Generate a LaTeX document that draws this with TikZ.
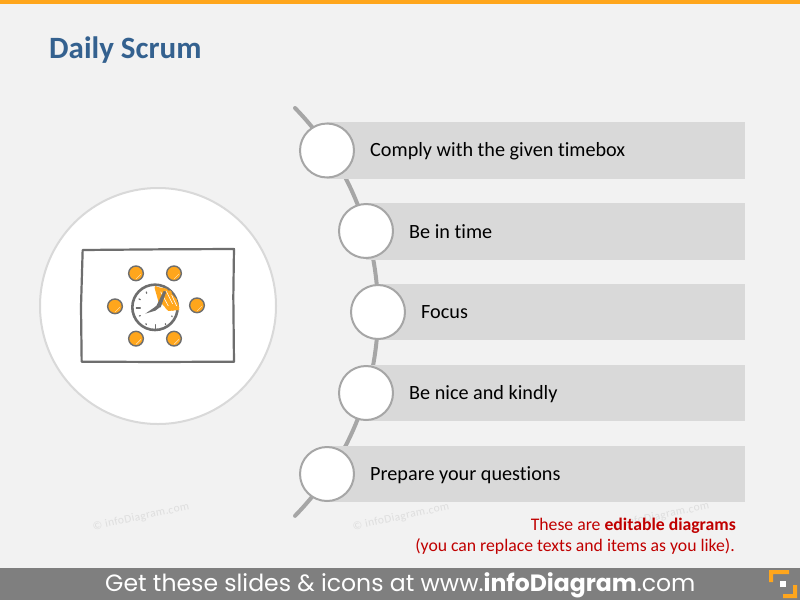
\documentclass[tikz,border=0pt]{standalone}
\usepackage{fontspec}
\setmainfont{Carlito}[Ligatures=NoCommon]
\newfontfamily\footfont{Poppins}
\newfontfamily\markfont[LetterSpace=3.5,Ligatures=NoCommon]{Carlito}
\definecolor{bg}{HTML}{F2F2F2}
\definecolor{barfill}{HTML}{D9D9D9}
\definecolor{ringc}{HTML}{A6A6A6}
\definecolor{topor}{HTML}{FFA61C}
\definecolor{foot}{HTML}{7F7F7F}
\definecolor{titlec}{HTML}{34618F}
\definecolor{redc}{HTML}{C00000}
\definecolor{markc}{HTML}{DEDEDE}
\definecolor{sketch}{HTML}{6E6E6E}
\tikzset{
 x=1pt,y=-1pt,
 barbox/.style={fill=barfill,draw=none,minimum height=56.5pt,anchor=west,inner sep=0pt},
 knob/.style={circle,fill=white,draw=ringc,line width=2pt,minimum size=54pt,inner sep=0pt},
 barlabel/.style={anchor=west,font=\fontsize{20.2}{24}\selectfont,text=black,inner sep=0pt},
 wmark/.style={font=\markfont\fontsize{11.5}{14}\selectfont,text=markc,rotate=12,inner sep=0pt},
 notetext/.style={anchor=east,inner sep=0pt,text=redc,font=\fontsize{17.7}{20}\selectfont},
 seatdot/.style={fill=topor,draw=sketch,line width=1.4pt},
 ticklet/.style={draw=sketch,line width=1.2pt,line cap=round},
}
\begin{document}
\begin{tikzpicture}
\useasboundingbox (0,0) rectangle (800,600);
\fill[bg] (0,0) rectangle (800,600);
\fill[topor] (0,0) rectangle (800,4);
\fill[foot] (0,568) rectangle (800,600);
\node[anchor=west,inner sep=0pt,font=\bfseries\fontsize{31}{36}\selectfont,text=titlec] (title) at (49,50) {Daily Scrum};
% watermarks
\node[wmark] (w1) at (141,517) {© infoDiagram.com};
\node[wmark] (w2) at (401,517) {© infoDiagram.com};
\node[wmark] (w3) at (661,516) {© infoDiagram.com};
% big circle
\node[circle,fill=white,draw=barfill,line width=2pt,minimum size=236pt,inner sep=0pt] (disc) at (158,306) {};
% arc
\coordinate (arcstart) at (295,108);
\draw[ringc,line width=4pt,line cap=round] (arcstart) arc[start angle=-44.3,end angle=44.3,radius=292];
% bars
\node[barbox,minimum width=418pt] (b1) at (327,150.5) {};
\node[barbox,minimum width=379pt] (b2) at (366,231.5) {};
\node[barbox,minimum width=367pt] (b3) at (378,312) {};
\node[barbox,minimum width=379pt] (b4) at (366,393) {};
\node[barbox,minimum width=418pt] (b5) at (327,474) {};
% knobs
\node[knob] (k1) at (327,150.5) {};
\node[knob] (k2) at (366,231) {};
\node[knob] (k3) at (378,312) {};
\node[knob] (k4) at (366,393) {};
\node[knob] (k5) at (327,474) {};
% labels
\node[barlabel] (t1) at (370,151) {Comply with the given timebox};
\node[barlabel] (t2) at (409,231.5) {Be in time};
\node[barlabel] (t3) at (421,312.5) {Focus};
\node[barlabel] (t4) at (409,394) {Be nice and kindly};
\node[barlabel] (t5) at (370,475) {Prepare your questions};
% note
\node[notetext] (n1) at (736,526) {These are \textbf{editable diagrams}};
\node[notetext] (n2) at (735,546) {(you can replace texts and items as you like).};
% footer
\node[anchor=west,inner sep=0pt,text=white,font=\footfont\fontsize{23.55}{28}\selectfont] (ft) at (105,585) {Get these slides \& icons at www.\textbf{infoDiagram}.com};
% logo
\fill[topor] (769,570) rectangle (789,574) (769,570) rectangle (773,582);
\fill[topor] (783,594) rectangle (797,598) (793,585) rectangle (797,598);
\fill[white] (780,581) rectangle (786,587);
% icon, in the reference's zoom coordinates
\begin{scope}[shift={(60,230)},x=0.3333pt,y=-0.3333pt]
 \fill[white] (65,60) rectangle (522,395);
 \draw[sketch,line width=2.2pt,line cap=round,line join=round] (68,60) -- (300,58) -- (522,57) -- (520,200) -- (522,395) -- (300,396) -- (65,395) -- (63,230) -- cycle;
 \foreach \cx/\cy in {228/130,342/130,165/229,411/226,228/326,342/326}{
  \draw[seatdot] (\cx,\cy) circle[radius=22];
  \draw[white,line width=.3pt] (\cx,\cy+17) -- (\cx+15,\cy+2);
 }
 \draw[sketch,line width=2.6pt] (285,232) circle[radius=68];
 \foreach \a/\b/\c/\d in {259/186/260/190,237/207/241/209,229/234/241/234,238/258/241/257,258/281/259/284,286/284/286/297,316/281/317/284,335/258/337/260}{
  \draw[ticklet] (\a,\b) -- (\c,\d);
 }
 \fill[topor] (287,170) -- (320,176) -- (348,205) -- (358,240) -- (325,243) -- (300,215) -- cycle;
 \draw[topor,line width=3pt,line join=round,line cap=round] (288,172) -- (300,215) -- (308,178) -- (322,235) -- (330,185) -- (338,238) -- (345,208) -- (354,235);
 \draw[white,line width=.6pt] (302,185) -- (325,228) (318,182) -- (338,222) (335,195) -- (350,228);
 \fill[sketch] (256,251) -- (282,233) -- (296,222) -- (302,230) -- (286,242) -- cycle;
 \fill[sketch] (290,226) -- (311,183) -- (319,185) -- (302,232) -- cycle;
\end{scope}
\end{tikzpicture}
\end{document}
